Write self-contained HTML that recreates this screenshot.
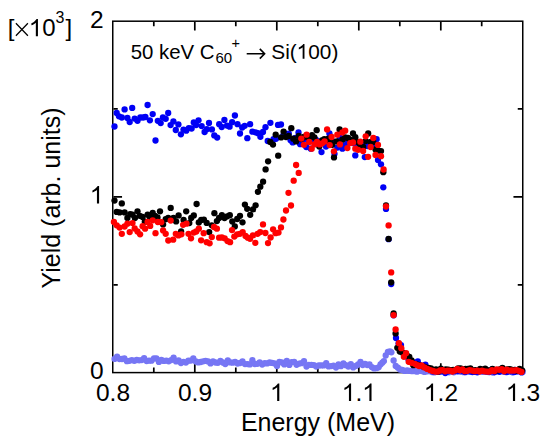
<!DOCTYPE html>
<html><head><meta charset="utf-8"><style>
html,body{margin:0;padding:0;background:#fff;width:550px;height:445px;overflow:hidden}
svg{display:block}
text{font-family:"Liberation Sans",sans-serif}
</style></head><body>
<svg width="550" height="445" viewBox="0 0 550 445">
<rect x="112.75" y="21.2" width="410.0" height="351.40000000000003" stroke="#000" stroke-width="1.5" fill="none"/>
<path d="M153.8,21.9v4.3M153.8,371.90000000000003v-4.3M194.8,21.9v8.6M194.8,371.90000000000003v-8.6M235.8,21.9v4.3M235.8,371.90000000000003v-4.3M276.8,21.9v8.6M276.8,371.90000000000003v-8.6M317.8,21.9v4.3M317.8,371.90000000000003v-4.3M358.8,21.9v8.6M358.8,371.90000000000003v-8.6M399.8,21.9v4.3M399.8,371.90000000000003v-4.3M440.8,21.9v8.6M440.8,371.90000000000003v-8.6M481.7,21.9v4.3M481.7,371.90000000000003v-4.3M113.45,284.9h4.3M522.05,284.9h-4.3M113.45,196.9h8.6M522.05,196.9h-8.6M113.45,108.9h4.3M522.05,108.9h-4.3" stroke="#000" stroke-width="1.7" fill="none"/>
<g fill="#7676f4"><circle cx="114.6" cy="358.9" r="3.15"/><circle cx="117.1" cy="356.7" r="3.15"/><circle cx="119.5" cy="359.0" r="3.15"/><circle cx="122.0" cy="359.0" r="3.15"/><circle cx="124.4" cy="358.4" r="3.15"/><circle cx="126.9" cy="361.2" r="3.15"/><circle cx="129.4" cy="360.8" r="3.15"/><circle cx="131.8" cy="360.1" r="3.15"/><circle cx="134.3" cy="360.8" r="3.15"/><circle cx="136.7" cy="360.0" r="3.15"/><circle cx="139.2" cy="360.3" r="3.15"/><circle cx="141.7" cy="360.1" r="3.15"/><circle cx="144.1" cy="358.1" r="3.15"/><circle cx="146.6" cy="361.0" r="3.15"/><circle cx="149.0" cy="360.7" r="3.15"/><circle cx="151.5" cy="360.7" r="3.15"/><circle cx="154.0" cy="358.4" r="3.15"/><circle cx="156.4" cy="358.4" r="3.15"/><circle cx="158.9" cy="361.9" r="3.15"/><circle cx="161.3" cy="360.0" r="3.15"/><circle cx="163.8" cy="360.9" r="3.15"/><circle cx="166.3" cy="360.6" r="3.15"/><circle cx="168.7" cy="361.3" r="3.15"/><circle cx="171.2" cy="360.1" r="3.15"/><circle cx="173.6" cy="357.6" r="3.15"/><circle cx="176.1" cy="361.4" r="3.15"/><circle cx="178.6" cy="360.3" r="3.15"/><circle cx="181.0" cy="363.0" r="3.15"/><circle cx="183.5" cy="361.8" r="3.15"/><circle cx="185.9" cy="362.6" r="3.15"/><circle cx="188.4" cy="360.7" r="3.15"/><circle cx="190.9" cy="360.6" r="3.15"/><circle cx="193.3" cy="358.5" r="3.15"/><circle cx="195.8" cy="361.5" r="3.15"/><circle cx="198.2" cy="362.4" r="3.15"/><circle cx="200.7" cy="362.0" r="3.15"/><circle cx="203.2" cy="361.3" r="3.15"/><circle cx="205.6" cy="360.9" r="3.15"/><circle cx="208.1" cy="361.4" r="3.15"/><circle cx="210.5" cy="363.4" r="3.15"/><circle cx="213.0" cy="361.3" r="3.15"/><circle cx="215.5" cy="362.5" r="3.15"/><circle cx="217.9" cy="362.8" r="3.15"/><circle cx="220.4" cy="360.8" r="3.15"/><circle cx="222.8" cy="362.5" r="3.15"/><circle cx="225.3" cy="364.0" r="3.15"/><circle cx="227.8" cy="360.4" r="3.15"/><circle cx="230.2" cy="362.4" r="3.15"/><circle cx="232.7" cy="362.7" r="3.15"/><circle cx="235.1" cy="362.0" r="3.15"/><circle cx="237.6" cy="363.5" r="3.15"/><circle cx="240.1" cy="363.0" r="3.15"/><circle cx="242.5" cy="361.5" r="3.15"/><circle cx="245.0" cy="364.1" r="3.15"/><circle cx="247.4" cy="364.1" r="3.15"/><circle cx="249.9" cy="364.4" r="3.15"/><circle cx="252.4" cy="360.2" r="3.15"/><circle cx="254.8" cy="364.0" r="3.15"/><circle cx="257.3" cy="363.8" r="3.15"/><circle cx="259.7" cy="362.3" r="3.15"/><circle cx="262.2" cy="364.5" r="3.15"/><circle cx="264.7" cy="363.2" r="3.15"/><circle cx="267.1" cy="363.4" r="3.15"/><circle cx="269.6" cy="362.5" r="3.15"/><circle cx="272.0" cy="362.9" r="3.15"/><circle cx="274.5" cy="363.4" r="3.15"/><circle cx="277.0" cy="366.0" r="3.15"/><circle cx="279.4" cy="361.9" r="3.15"/><circle cx="281.9" cy="362.5" r="3.15"/><circle cx="284.3" cy="364.4" r="3.15"/><circle cx="286.8" cy="360.9" r="3.15"/><circle cx="289.3" cy="364.9" r="3.15"/><circle cx="291.7" cy="362.2" r="3.15"/><circle cx="294.2" cy="362.0" r="3.15"/><circle cx="296.6" cy="364.8" r="3.15"/><circle cx="299.1" cy="363.6" r="3.15"/><circle cx="301.6" cy="363.2" r="3.15"/><circle cx="304.0" cy="361.2" r="3.15"/><circle cx="306.5" cy="366.5" r="3.15"/><circle cx="308.9" cy="364.8" r="3.15"/><circle cx="311.4" cy="364.9" r="3.15"/><circle cx="313.9" cy="365.1" r="3.15"/><circle cx="316.3" cy="366.5" r="3.15"/><circle cx="318.8" cy="365.4" r="3.15"/><circle cx="321.2" cy="365.4" r="3.15"/><circle cx="323.7" cy="365.4" r="3.15"/><circle cx="326.2" cy="363.2" r="3.15"/><circle cx="328.6" cy="366.4" r="3.15"/><circle cx="331.1" cy="366.1" r="3.15"/><circle cx="333.5" cy="365.7" r="3.15"/><circle cx="336.0" cy="367.5" r="3.15"/><circle cx="338.5" cy="364.5" r="3.15"/><circle cx="340.9" cy="366.2" r="3.15"/><circle cx="343.4" cy="363.4" r="3.15"/><circle cx="345.8" cy="365.2" r="3.15"/><circle cx="348.3" cy="366.6" r="3.15"/><circle cx="350.8" cy="364.1" r="3.15"/><circle cx="353.2" cy="367.4" r="3.15"/><circle cx="355.9" cy="365.9" r="3.15"/><circle cx="358.2" cy="364.5" r="3.15"/><circle cx="360.5" cy="361.8" r="3.15"/><circle cx="362.7" cy="365.0" r="3.15"/><circle cx="365.0" cy="363.8" r="3.15"/><circle cx="367.3" cy="365.0" r="3.15"/><circle cx="369.5" cy="364.5" r="3.15"/><circle cx="371.8" cy="367.1" r="3.15"/><circle cx="374.1" cy="368.4" r="3.15"/><circle cx="376.4" cy="368.2" r="3.15"/><circle cx="378.6" cy="367.3" r="3.15"/><circle cx="380.5" cy="364.5" r="3.15"/><circle cx="382.3" cy="362.7" r="3.15"/><circle cx="383.9" cy="361.1" r="3.15"/><circle cx="385.7" cy="355.5" r="3.15"/><circle cx="387.9" cy="351.8" r="3.15"/><circle cx="390.0" cy="351.4" r="3.15"/><circle cx="391.4" cy="352.3" r="3.15"/><circle cx="393.6" cy="360.5" r="3.15"/><circle cx="395.7" cy="365.9" r="3.15"/><circle cx="397.9" cy="367.7" r="3.15"/><circle cx="400.0" cy="369.5" r="3.15"/><circle cx="402.3" cy="370.0" r="3.15"/><circle cx="404.7" cy="370.9" r="3.15"/><circle cx="407.2" cy="370.5" r="3.15"/><circle cx="409.6" cy="370.9" r="3.15"/><circle cx="412.1" cy="371.2" r="3.15"/><circle cx="414.5" cy="371.0" r="3.15"/><circle cx="417.0" cy="371.7" r="3.15"/><circle cx="419.5" cy="370.7" r="3.15"/><circle cx="421.9" cy="371.0" r="3.15"/><circle cx="424.4" cy="371.9" r="3.15"/><circle cx="426.8" cy="371.4" r="3.15"/><circle cx="429.3" cy="371.0" r="3.15"/><circle cx="431.8" cy="372.1" r="3.15"/><circle cx="434.2" cy="372.4" r="3.15"/><circle cx="436.7" cy="371.2" r="3.15"/><circle cx="439.1" cy="370.7" r="3.15"/><circle cx="441.6" cy="371.4" r="3.15"/><circle cx="444.1" cy="371.4" r="3.15"/><circle cx="446.5" cy="371.3" r="3.15"/><circle cx="449.0" cy="372.3" r="3.15"/><circle cx="451.4" cy="370.9" r="3.15"/><circle cx="453.9" cy="372.3" r="3.15"/><circle cx="456.4" cy="370.7" r="3.15"/><circle cx="458.8" cy="371.0" r="3.15"/><circle cx="461.3" cy="371.9" r="3.15"/><circle cx="463.7" cy="372.2" r="3.15"/><circle cx="466.2" cy="372.0" r="3.15"/><circle cx="468.7" cy="371.7" r="3.15"/><circle cx="471.1" cy="371.6" r="3.15"/><circle cx="473.6" cy="371.6" r="3.15"/><circle cx="476.0" cy="371.8" r="3.15"/><circle cx="478.5" cy="371.4" r="3.15"/><circle cx="481.0" cy="371.7" r="3.15"/><circle cx="483.4" cy="371.8" r="3.15"/><circle cx="485.9" cy="371.5" r="3.15"/><circle cx="488.3" cy="372.0" r="3.15"/><circle cx="490.8" cy="371.8" r="3.15"/><circle cx="493.3" cy="372.7" r="3.15"/><circle cx="495.7" cy="371.7" r="3.15"/><circle cx="498.2" cy="371.2" r="3.15"/><circle cx="500.6" cy="371.3" r="3.15"/><circle cx="503.1" cy="371.5" r="3.15"/><circle cx="505.6" cy="372.1" r="3.15"/><circle cx="508.0" cy="371.3" r="3.15"/><circle cx="510.5" cy="371.7" r="3.15"/><circle cx="512.9" cy="372.6" r="3.15"/><circle cx="515.4" cy="370.0" r="3.15"/><circle cx="517.9" cy="370.8" r="3.15"/><circle cx="520.3" cy="371.6" r="3.15"/><circle cx="522.8" cy="371.7" r="3.15"/></g>
<g fill="#0000f5"><circle cx="114.5" cy="126.5" r="3.15"/><circle cx="116.7" cy="113.0" r="3.15"/><circle cx="119.0" cy="116.3" r="3.15"/><circle cx="121.8" cy="117.5" r="3.15"/><circle cx="124.6" cy="109.4" r="3.15"/><circle cx="127.4" cy="118.0" r="3.15"/><circle cx="129.7" cy="122.0" r="3.15"/><circle cx="132.2" cy="107.9" r="3.15"/><circle cx="134.7" cy="118.6" r="3.15"/><circle cx="137.5" cy="120.8" r="3.15"/><circle cx="140.3" cy="117.5" r="3.15"/><circle cx="143.1" cy="117.5" r="3.15"/><circle cx="145.4" cy="117.0" r="3.15"/><circle cx="147.6" cy="105.0" r="3.15"/><circle cx="149.9" cy="120.3" r="3.15"/><circle cx="152.7" cy="114.1" r="3.15"/><circle cx="155.5" cy="140.5" r="3.15"/><circle cx="157.8" cy="120.8" r="3.15"/><circle cx="160.7" cy="123.1" r="3.15"/><circle cx="162.9" cy="117.5" r="3.15"/><circle cx="165.7" cy="118.8" r="3.15"/><circle cx="168.2" cy="113.0" r="3.15"/><circle cx="170.6" cy="125.1" r="3.15"/><circle cx="173.4" cy="121.4" r="3.15"/><circle cx="175.8" cy="130.0" r="3.15"/><circle cx="178.4" cy="124.4" r="3.15"/><circle cx="180.9" cy="134.3" r="3.15"/><circle cx="183.5" cy="129.6" r="3.15"/><circle cx="186.2" cy="130.7" r="3.15"/><circle cx="188.8" cy="128.1" r="3.15"/><circle cx="191.6" cy="128.5" r="3.15"/><circle cx="193.8" cy="122.5" r="3.15"/><circle cx="196.1" cy="125.1" r="3.15"/><circle cx="198.5" cy="120.3" r="3.15"/><circle cx="201.7" cy="126.1" r="3.15"/><circle cx="204.6" cy="132.0" r="3.15"/><circle cx="206.8" cy="129.2" r="3.15"/><circle cx="209.0" cy="123.0" r="3.15"/><circle cx="211.9" cy="129.4" r="3.15"/><circle cx="214.3" cy="135.4" r="3.15"/><circle cx="217.2" cy="137.6" r="3.15"/><circle cx="219.2" cy="124.2" r="3.15"/><circle cx="221.7" cy="127.0" r="3.15"/><circle cx="224.4" cy="120.0" r="3.15"/><circle cx="227.0" cy="125.6" r="3.15"/><circle cx="229.6" cy="126.7" r="3.15"/><circle cx="232.1" cy="122.2" r="3.15"/><circle cx="234.9" cy="115.5" r="3.15"/><circle cx="237.5" cy="124.2" r="3.15"/><circle cx="240.0" cy="133.5" r="3.15"/><circle cx="242.2" cy="127.5" r="3.15"/><circle cx="244.7" cy="125.8" r="3.15"/><circle cx="247.3" cy="138.2" r="3.15"/><circle cx="250.1" cy="124.2" r="3.15"/><circle cx="252.4" cy="131.7" r="3.15"/><circle cx="255.5" cy="132.3" r="3.15"/><circle cx="258.0" cy="133.2" r="3.15"/><circle cx="260.4" cy="136.8" r="3.15"/><circle cx="263.0" cy="132.0" r="3.15"/><circle cx="265.5" cy="127.2" r="3.15"/><circle cx="267.7" cy="141.0" r="3.15"/><circle cx="270.4" cy="122.8" r="3.15"/><circle cx="273.5" cy="139.2" r="3.15"/><circle cx="276.0" cy="138.8" r="3.15"/><circle cx="278.0" cy="124.9" r="3.15"/><circle cx="281.0" cy="124.5" r="3.15"/><circle cx="283.5" cy="135.0" r="3.15"/><circle cx="286.0" cy="134.0" r="3.15"/><circle cx="288.8" cy="133.6" r="3.15"/><circle cx="290.6" cy="140.3" r="3.15"/><circle cx="292.7" cy="142.4" r="3.15"/><circle cx="295.5" cy="138.0" r="3.15"/><circle cx="298.5" cy="132.4" r="3.15"/><circle cx="300.2" cy="144.2" r="3.15"/><circle cx="303.0" cy="140.0" r="3.15"/><circle cx="306.3" cy="147.0" r="3.15"/><circle cx="308.5" cy="141.0" r="3.15"/><circle cx="310.8" cy="148.7" r="3.15"/><circle cx="313.5" cy="141.0" r="3.15"/><circle cx="316.0" cy="140.0" r="3.15"/><circle cx="318.5" cy="142.0" r="3.15"/><circle cx="321.5" cy="152.1" r="3.15"/><circle cx="324.0" cy="141.0" r="3.15"/><circle cx="326.0" cy="146.5" r="3.15"/><circle cx="329.4" cy="133.5" r="3.15"/><circle cx="332.8" cy="141.4" r="3.15"/><circle cx="334.5" cy="153.8" r="3.15"/><circle cx="337.3" cy="147.6" r="3.15"/><circle cx="340.1" cy="138.0" r="3.15"/><circle cx="342.4" cy="148.7" r="3.15"/><circle cx="344.6" cy="145.3" r="3.15"/><circle cx="347.5" cy="143.0" r="3.15"/><circle cx="350.0" cy="142.0" r="3.15"/><circle cx="352.5" cy="143.0" r="3.15"/><circle cx="355.3" cy="155.4" r="3.15"/><circle cx="357.0" cy="145.3" r="3.15"/><circle cx="360.0" cy="144.0" r="3.15"/><circle cx="362.5" cy="145.0" r="3.15"/><circle cx="364.8" cy="157.1" r="3.15"/><circle cx="367.5" cy="146.0" r="3.15"/><circle cx="369.9" cy="143.7" r="3.15"/><circle cx="372.5" cy="144.0" r="3.15"/><circle cx="374.5" cy="146.0" r="3.15"/><circle cx="376.6" cy="139.2" r="3.15"/><circle cx="378.0" cy="160.0" r="3.15"/><circle cx="381.0" cy="164.3" r="3.15"/><circle cx="383.3" cy="187.3" r="3.15"/><circle cx="386.0" cy="208.9" r="3.15"/><circle cx="388.6" cy="239.2" r="3.15"/><circle cx="391.2" cy="284.0" r="3.15"/><circle cx="393.6" cy="315.3" r="3.15"/><circle cx="396.0" cy="338.0" r="3.15"/><circle cx="398.6" cy="343.5" r="3.15"/><circle cx="401.0" cy="345.1" r="3.15"/><circle cx="403.5" cy="353.0" r="3.15"/><circle cx="406.0" cy="354.5" r="3.15"/><circle cx="408.5" cy="359.5" r="3.15"/><circle cx="411.0" cy="361.5" r="3.15"/><circle cx="413.5" cy="362.5" r="3.15"/><circle cx="416.0" cy="363.5" r="3.15"/><circle cx="417.8" cy="361.3" r="3.15"/><circle cx="420.5" cy="365.5" r="3.15"/><circle cx="423.0" cy="366.5" r="3.15"/><circle cx="425.4" cy="364.6" r="3.15"/><circle cx="428.0" cy="368.5" r="3.15"/><circle cx="430.5" cy="369.5" r="3.15"/><circle cx="433.0" cy="371.5" r="3.15"/><circle cx="435.5" cy="371.0" r="3.15"/><circle cx="437.9" cy="371.8" r="3.15"/><circle cx="440.4" cy="371.5" r="3.15"/><circle cx="442.8" cy="370.9" r="3.15"/><circle cx="445.3" cy="373.0" r="3.15"/><circle cx="447.8" cy="371.5" r="3.15"/><circle cx="450.2" cy="370.9" r="3.15"/><circle cx="452.7" cy="371.2" r="3.15"/><circle cx="455.1" cy="371.1" r="3.15"/><circle cx="457.6" cy="371.3" r="3.15"/><circle cx="460.1" cy="369.4" r="3.15"/><circle cx="462.5" cy="371.0" r="3.15"/><circle cx="465.0" cy="372.0" r="3.15"/><circle cx="467.4" cy="370.5" r="3.15"/><circle cx="469.9" cy="371.3" r="3.15"/><circle cx="472.4" cy="372.0" r="3.15"/><circle cx="474.8" cy="371.9" r="3.15"/><circle cx="477.3" cy="372.3" r="3.15"/><circle cx="479.7" cy="370.1" r="3.15"/><circle cx="482.2" cy="371.1" r="3.15"/><circle cx="484.7" cy="371.1" r="3.15"/><circle cx="487.1" cy="371.7" r="3.15"/><circle cx="489.6" cy="372.1" r="3.15"/><circle cx="492.0" cy="369.4" r="3.15"/><circle cx="494.5" cy="372.1" r="3.15"/><circle cx="497.0" cy="370.3" r="3.15"/><circle cx="499.4" cy="371.8" r="3.15"/><circle cx="501.9" cy="370.3" r="3.15"/><circle cx="504.3" cy="371.4" r="3.15"/><circle cx="506.8" cy="372.1" r="3.15"/><circle cx="509.3" cy="371.2" r="3.15"/><circle cx="511.7" cy="371.4" r="3.15"/><circle cx="514.2" cy="371.9" r="3.15"/><circle cx="516.6" cy="371.4" r="3.15"/><circle cx="519.1" cy="371.2" r="3.15"/><circle cx="521.6" cy="372.4" r="3.15"/></g>
<g fill="#000000"><circle cx="114.5" cy="200.6" r="3.15"/><circle cx="116.7" cy="211.9" r="3.15"/><circle cx="119.6" cy="212.4" r="3.15"/><circle cx="121.8" cy="203.4" r="3.15"/><circle cx="124.6" cy="212.4" r="3.15"/><circle cx="127.4" cy="218.0" r="3.15"/><circle cx="130.2" cy="214.1" r="3.15"/><circle cx="132.5" cy="214.7" r="3.15"/><circle cx="134.9" cy="218.0" r="3.15"/><circle cx="137.5" cy="211.3" r="3.15"/><circle cx="139.8" cy="215.8" r="3.15"/><circle cx="142.6" cy="216.9" r="3.15"/><circle cx="144.8" cy="221.7" r="3.15"/><circle cx="147.6" cy="214.7" r="3.15"/><circle cx="149.9" cy="217.5" r="3.15"/><circle cx="152.7" cy="213.0" r="3.15"/><circle cx="155.0" cy="216.0" r="3.15"/><circle cx="157.5" cy="217.5" r="3.15"/><circle cx="160.0" cy="211.3" r="3.15"/><circle cx="163.1" cy="224.4" r="3.15"/><circle cx="165.7" cy="219.2" r="3.15"/><circle cx="168.2" cy="218.0" r="3.15"/><circle cx="170.7" cy="207.9" r="3.15"/><circle cx="173.5" cy="218.0" r="3.15"/><circle cx="176.1" cy="221.4" r="3.15"/><circle cx="178.6" cy="215.4" r="3.15"/><circle cx="181.1" cy="231.5" r="3.15"/><circle cx="183.6" cy="220.0" r="3.15"/><circle cx="186.2" cy="211.3" r="3.15"/><circle cx="189.3" cy="223.1" r="3.15"/><circle cx="191.2" cy="218.0" r="3.15"/><circle cx="193.8" cy="215.4" r="3.15"/><circle cx="196.6" cy="204.0" r="3.15"/><circle cx="198.8" cy="222.5" r="3.15"/><circle cx="201.2" cy="220.0" r="3.15"/><circle cx="203.9" cy="219.7" r="3.15"/><circle cx="206.7" cy="222.9" r="3.15"/><circle cx="209.2" cy="232.1" r="3.15"/><circle cx="211.8" cy="225.3" r="3.15"/><circle cx="214.4" cy="213.2" r="3.15"/><circle cx="216.9" cy="221.1" r="3.15"/><circle cx="219.1" cy="218.0" r="3.15"/><circle cx="221.9" cy="215.2" r="3.15"/><circle cx="224.5" cy="218.0" r="3.15"/><circle cx="227.2" cy="216.3" r="3.15"/><circle cx="229.8" cy="215.2" r="3.15"/><circle cx="232.3" cy="221.5" r="3.15"/><circle cx="234.8" cy="226.4" r="3.15"/><circle cx="237.2" cy="219.0" r="3.15"/><circle cx="240.0" cy="215.8" r="3.15"/><circle cx="242.5" cy="222.3" r="3.15"/><circle cx="244.9" cy="204.6" r="3.15"/><circle cx="247.2" cy="208.8" r="3.15"/><circle cx="250.2" cy="214.8" r="3.15"/><circle cx="253.0" cy="209.4" r="3.15"/><circle cx="255.6" cy="205.3" r="3.15"/><circle cx="257.9" cy="191.8" r="3.15"/><circle cx="260.3" cy="186.7" r="3.15"/><circle cx="263.1" cy="181.7" r="3.15"/><circle cx="265.6" cy="169.4" r="3.15"/><circle cx="268.1" cy="161.3" r="3.15"/><circle cx="270.3" cy="142.0" r="3.15"/><circle cx="273.0" cy="144.6" r="3.15"/><circle cx="275.7" cy="134.7" r="3.15"/><circle cx="278.2" cy="155.7" r="3.15"/><circle cx="281.1" cy="137.4" r="3.15"/><circle cx="283.6" cy="131.6" r="3.15"/><circle cx="286.0" cy="137.0" r="3.15"/><circle cx="288.7" cy="136.0" r="3.15"/><circle cx="291.3" cy="128.2" r="3.15"/><circle cx="293.3" cy="138.7" r="3.15"/><circle cx="296.0" cy="141.4" r="3.15"/><circle cx="298.7" cy="135.8" r="3.15"/><circle cx="301.3" cy="139.0" r="3.15"/><circle cx="303.9" cy="137.0" r="3.15"/><circle cx="306.5" cy="136.0" r="3.15"/><circle cx="309.0" cy="138.0" r="3.15"/><circle cx="312.0" cy="135.2" r="3.15"/><circle cx="314.4" cy="137.5" r="3.15"/><circle cx="316.7" cy="130.2" r="3.15"/><circle cx="319.3" cy="146.5" r="3.15"/><circle cx="321.9" cy="140.3" r="3.15"/><circle cx="324.3" cy="139.2" r="3.15"/><circle cx="326.7" cy="140.0" r="3.15"/><circle cx="328.3" cy="138.6" r="3.15"/><circle cx="330.8" cy="140.0" r="3.15"/><circle cx="332.2" cy="144.8" r="3.15"/><circle cx="334.0" cy="157.4" r="3.15"/><circle cx="336.7" cy="141.4" r="3.15"/><circle cx="339.6" cy="129.4" r="3.15"/><circle cx="342.4" cy="139.7" r="3.15"/><circle cx="345.2" cy="137.5" r="3.15"/><circle cx="348.0" cy="138.0" r="3.15"/><circle cx="350.5" cy="140.0" r="3.15"/><circle cx="353.0" cy="133.5" r="3.15"/><circle cx="355.3" cy="137.2" r="3.15"/><circle cx="357.8" cy="142.0" r="3.15"/><circle cx="360.1" cy="146.5" r="3.15"/><circle cx="363.1" cy="147.0" r="3.15"/><circle cx="365.7" cy="141.1" r="3.15"/><circle cx="368.2" cy="133.5" r="3.15"/><circle cx="370.7" cy="142.0" r="3.15"/><circle cx="373.3" cy="142.0" r="3.15"/><circle cx="375.5" cy="149.5" r="3.15"/><circle cx="378.3" cy="150.7" r="3.15"/><circle cx="381.0" cy="151.1" r="3.15"/><circle cx="383.3" cy="172.2" r="3.15"/><circle cx="386.0" cy="205.5" r="3.15"/><circle cx="388.6" cy="238.9" r="3.15"/><circle cx="391.2" cy="282.3" r="3.15"/><circle cx="393.6" cy="313.5" r="3.15"/><circle cx="395.6" cy="333.4" r="3.15"/><circle cx="397.3" cy="347.8" r="3.15"/><circle cx="399.8" cy="351.5" r="3.15"/><circle cx="402.3" cy="352.5" r="3.15"/><circle cx="404.8" cy="354.5" r="3.15"/><circle cx="407.2" cy="355.8" r="3.15"/><circle cx="409.3" cy="356.8" r="3.15"/><circle cx="411.5" cy="360.5" r="3.15"/><circle cx="413.3" cy="365.2" r="3.15"/><circle cx="416.0" cy="364.2" r="3.15"/><circle cx="418.5" cy="365.0" r="3.15"/><circle cx="421.0" cy="365.8" r="3.15"/><circle cx="423.5" cy="366.5" r="3.15"/><circle cx="426.0" cy="367.5" r="3.15"/><circle cx="428.5" cy="368.0" r="3.15"/><circle cx="431.0" cy="368.4" r="3.15"/><circle cx="433.5" cy="370.4" r="3.15"/><circle cx="436.0" cy="369.4" r="3.15"/><circle cx="438.4" cy="371.6" r="3.15"/><circle cx="440.9" cy="368.7" r="3.15"/><circle cx="443.3" cy="370.3" r="3.15"/><circle cx="445.8" cy="369.4" r="3.15"/><circle cx="448.3" cy="369.7" r="3.15"/><circle cx="450.7" cy="370.2" r="3.15"/><circle cx="453.2" cy="369.8" r="3.15"/><circle cx="455.6" cy="370.1" r="3.15"/><circle cx="458.1" cy="368.4" r="3.15"/><circle cx="460.6" cy="368.4" r="3.15"/><circle cx="463.0" cy="370.1" r="3.15"/><circle cx="465.5" cy="368.8" r="3.15"/><circle cx="467.9" cy="368.8" r="3.15"/><circle cx="470.4" cy="368.4" r="3.15"/><circle cx="472.9" cy="370.6" r="3.15"/><circle cx="475.3" cy="370.2" r="3.15"/><circle cx="477.8" cy="370.8" r="3.15"/><circle cx="480.2" cy="368.8" r="3.15"/><circle cx="482.7" cy="369.6" r="3.15"/><circle cx="485.2" cy="368.7" r="3.15"/><circle cx="487.6" cy="370.2" r="3.15"/><circle cx="490.1" cy="370.9" r="3.15"/><circle cx="492.5" cy="368.9" r="3.15"/><circle cx="495.0" cy="370.8" r="3.15"/><circle cx="497.5" cy="370.4" r="3.15"/><circle cx="499.9" cy="369.5" r="3.15"/><circle cx="502.4" cy="368.0" r="3.15"/><circle cx="504.8" cy="370.7" r="3.15"/><circle cx="507.3" cy="369.5" r="3.15"/><circle cx="509.8" cy="369.1" r="3.15"/><circle cx="512.2" cy="369.9" r="3.15"/><circle cx="514.7" cy="369.9" r="3.15"/><circle cx="517.1" cy="370.8" r="3.15"/><circle cx="519.6" cy="368.8" r="3.15"/><circle cx="522.1" cy="370.5" r="3.15"/></g>
<g fill="#ff0000"><circle cx="113.9" cy="222.0" r="3.15"/><circle cx="116.7" cy="225.3" r="3.15"/><circle cx="119.6" cy="227.6" r="3.15"/><circle cx="121.8" cy="233.8" r="3.15"/><circle cx="124.6" cy="226.5" r="3.15"/><circle cx="127.4" cy="223.7" r="3.15"/><circle cx="129.7" cy="232.1" r="3.15"/><circle cx="132.5" cy="223.1" r="3.15"/><circle cx="134.7" cy="228.5" r="3.15"/><circle cx="137.5" cy="231.5" r="3.15"/><circle cx="140.1" cy="234.3" r="3.15"/><circle cx="142.6" cy="226.2" r="3.15"/><circle cx="145.1" cy="228.7" r="3.15"/><circle cx="147.6" cy="222.0" r="3.15"/><circle cx="150.2" cy="225.9" r="3.15"/><circle cx="152.7" cy="220.3" r="3.15"/><circle cx="155.5" cy="233.2" r="3.15"/><circle cx="157.8" cy="222.0" r="3.15"/><circle cx="161.2" cy="222.2" r="3.15"/><circle cx="163.1" cy="230.4" r="3.15"/><circle cx="165.7" cy="233.8" r="3.15"/><circle cx="168.3" cy="240.5" r="3.15"/><circle cx="170.7" cy="220.6" r="3.15"/><circle cx="173.2" cy="239.7" r="3.15"/><circle cx="175.8" cy="233.8" r="3.15"/><circle cx="178.4" cy="235.4" r="3.15"/><circle cx="181.4" cy="234.3" r="3.15"/><circle cx="183.1" cy="224.8" r="3.15"/><circle cx="186.5" cy="223.7" r="3.15"/><circle cx="188.5" cy="233.8" r="3.15"/><circle cx="191.0" cy="238.3" r="3.15"/><circle cx="193.8" cy="232.6" r="3.15"/><circle cx="196.3" cy="231.5" r="3.15"/><circle cx="198.8" cy="228.7" r="3.15"/><circle cx="201.1" cy="240.3" r="3.15"/><circle cx="203.7" cy="233.2" r="3.15"/><circle cx="206.7" cy="242.2" r="3.15"/><circle cx="209.6" cy="243.3" r="3.15"/><circle cx="211.8" cy="237.1" r="3.15"/><circle cx="214.0" cy="227.0" r="3.15"/><circle cx="216.9" cy="228.7" r="3.15"/><circle cx="219.1" cy="237.7" r="3.15"/><circle cx="221.9" cy="237.5" r="3.15"/><circle cx="224.7" cy="238.3" r="3.15"/><circle cx="227.5" cy="241.1" r="3.15"/><circle cx="230.1" cy="242.2" r="3.15"/><circle cx="232.0" cy="230.1" r="3.15"/><circle cx="234.3" cy="236.6" r="3.15"/><circle cx="237.1" cy="234.3" r="3.15"/><circle cx="239.9" cy="233.8" r="3.15"/><circle cx="242.7" cy="232.1" r="3.15"/><circle cx="245.5" cy="236.0" r="3.15"/><circle cx="247.8" cy="237.7" r="3.15"/><circle cx="250.1" cy="238.8" r="3.15"/><circle cx="252.9" cy="235.4" r="3.15"/><circle cx="255.3" cy="242.8" r="3.15"/><circle cx="257.6" cy="233.8" r="3.15"/><circle cx="260.2" cy="232.1" r="3.15"/><circle cx="263.0" cy="224.4" r="3.15"/><circle cx="265.4" cy="233.0" r="3.15"/><circle cx="268.0" cy="243.1" r="3.15"/><circle cx="270.6" cy="237.5" r="3.15"/><circle cx="273.1" cy="229.3" r="3.15"/><circle cx="275.6" cy="233.2" r="3.15"/><circle cx="278.5" cy="232.6" r="3.15"/><circle cx="281.0" cy="227.4" r="3.15"/><circle cx="283.4" cy="219.5" r="3.15"/><circle cx="286.0" cy="210.5" r="3.15"/><circle cx="288.5" cy="192.8" r="3.15"/><circle cx="291.0" cy="205.5" r="3.15"/><circle cx="293.7" cy="180.7" r="3.15"/><circle cx="296.1" cy="165.0" r="3.15"/><circle cx="298.7" cy="172.9" r="3.15"/><circle cx="301.3" cy="138.6" r="3.15"/><circle cx="303.9" cy="144.8" r="3.15"/><circle cx="306.6" cy="134.7" r="3.15"/><circle cx="309.2" cy="142.0" r="3.15"/><circle cx="311.7" cy="148.7" r="3.15"/><circle cx="314.4" cy="144.4" r="3.15"/><circle cx="317.0" cy="142.0" r="3.15"/><circle cx="319.6" cy="144.4" r="3.15"/><circle cx="322.1" cy="143.3" r="3.15"/><circle cx="324.6" cy="141.4" r="3.15"/><circle cx="327.1" cy="129.4" r="3.15"/><circle cx="329.7" cy="145.1" r="3.15"/><circle cx="331.6" cy="137.0" r="3.15"/><circle cx="333.9" cy="151.3" r="3.15"/><circle cx="337.3" cy="134.7" r="3.15"/><circle cx="339.9" cy="144.4" r="3.15"/><circle cx="342.4" cy="132.4" r="3.15"/><circle cx="345.2" cy="130.7" r="3.15"/><circle cx="347.4" cy="148.1" r="3.15"/><circle cx="350.2" cy="143.1" r="3.15"/><circle cx="353.0" cy="142.5" r="3.15"/><circle cx="355.3" cy="148.7" r="3.15"/><circle cx="358.1" cy="149.8" r="3.15"/><circle cx="360.3" cy="141.7" r="3.15"/><circle cx="363.1" cy="151.0" r="3.15"/><circle cx="365.7" cy="136.3" r="3.15"/><circle cx="368.1" cy="156.8" r="3.15"/><circle cx="370.6" cy="147.0" r="3.15"/><circle cx="373.3" cy="138.0" r="3.15"/><circle cx="375.5" cy="155.0" r="3.15"/><circle cx="378.0" cy="144.9" r="3.15"/><circle cx="381.0" cy="156.2" r="3.15"/><circle cx="383.6" cy="169.5" r="3.15"/><circle cx="386.0" cy="206.5" r="3.15"/><circle cx="388.6" cy="225.4" r="3.15"/><circle cx="391.2" cy="272.4" r="3.15"/><circle cx="393.6" cy="315.2" r="3.15"/><circle cx="395.6" cy="329.5" r="3.15"/><circle cx="398.9" cy="343.2" r="3.15"/><circle cx="401.3" cy="348.2" r="3.15"/><circle cx="403.9" cy="356.8" r="3.15"/><circle cx="406.1" cy="353.2" r="3.15"/><circle cx="408.7" cy="361.8" r="3.15"/><circle cx="411.6" cy="362.8" r="3.15"/><circle cx="414.8" cy="363.8" r="3.15"/><circle cx="417.2" cy="365.2" r="3.15"/><circle cx="419.2" cy="366.0" r="3.15"/><circle cx="421.6" cy="365.5" r="3.15"/><circle cx="424.4" cy="367.4" r="3.15"/><circle cx="427.3" cy="368.9" r="3.15"/><circle cx="430.2" cy="370.2" r="3.15"/><circle cx="432.8" cy="371.0" r="3.15"/><circle cx="435.3" cy="371.6" r="3.15"/><circle cx="437.8" cy="371.6" r="3.15"/><circle cx="440.2" cy="370.5" r="3.15"/><circle cx="442.7" cy="370.1" r="3.15"/><circle cx="445.1" cy="371.3" r="3.15"/><circle cx="447.6" cy="370.7" r="3.15"/><circle cx="450.1" cy="370.7" r="3.15"/><circle cx="452.5" cy="371.6" r="3.15"/><circle cx="455.0" cy="370.4" r="3.15"/><circle cx="457.4" cy="369.0" r="3.15"/><circle cx="459.9" cy="370.3" r="3.15"/><circle cx="462.4" cy="369.3" r="3.15"/><circle cx="464.8" cy="371.2" r="3.15"/><circle cx="467.3" cy="370.8" r="3.15"/><circle cx="469.7" cy="370.2" r="3.15"/><circle cx="472.2" cy="370.6" r="3.15"/><circle cx="474.7" cy="371.2" r="3.15"/><circle cx="477.1" cy="370.7" r="3.15"/><circle cx="479.6" cy="371.5" r="3.15"/><circle cx="482.0" cy="370.6" r="3.15"/><circle cx="484.5" cy="371.3" r="3.15"/><circle cx="487.0" cy="371.6" r="3.15"/><circle cx="489.4" cy="371.7" r="3.15"/><circle cx="491.9" cy="370.1" r="3.15"/><circle cx="494.3" cy="371.2" r="3.15"/><circle cx="496.8" cy="369.3" r="3.15"/><circle cx="499.3" cy="369.8" r="3.15"/><circle cx="501.7" cy="369.2" r="3.15"/><circle cx="504.2" cy="371.3" r="3.15"/><circle cx="506.6" cy="369.7" r="3.15"/><circle cx="509.1" cy="370.6" r="3.15"/><circle cx="511.6" cy="370.5" r="3.15"/><circle cx="514.0" cy="370.6" r="3.15"/><circle cx="516.5" cy="370.2" r="3.15"/><circle cx="518.9" cy="370.8" r="3.15"/><circle cx="521.4" cy="371.9" r="3.15"/></g>
<g fill="#000">
<g transform="translate(89.97,27.80)"><text x="0.00" y="0" font-size="24.5">2</text></g><g transform="translate(89.97,203.60)"><path transform="translate(0.00,0) scale(0.01196,-0.01196)" d="M763,0L583,0L583,1147Q518,1085 412,1023Q306,961 205,925L205,1100Q365,1172 480,1276Q599,1377 646,1466L763,1466Z"/></g><g transform="translate(89.97,379.40)"><text x="0.00" y="0" font-size="24.5">0</text></g><g transform="translate(95.97,401.00)"><text x="0.00" y="0" font-size="24.5">0.8</text></g><g transform="translate(177.97,401.00)"><text x="0.00" y="0" font-size="24.5">0.9</text></g><g transform="translate(270.19,401.00)"><path transform="translate(0.00,0) scale(0.01196,-0.01196)" d="M763,0L583,0L583,1147Q518,1085 412,1023Q306,961 205,925L205,1100Q365,1172 480,1276Q599,1377 646,1466L763,1466Z"/></g><g transform="translate(341.97,401.00)"><path transform="translate(0.00,0) scale(0.01196,-0.01196)" d="M763,0L583,0L583,1147Q518,1085 412,1023Q306,961 205,925L205,1100Q365,1172 480,1276Q599,1377 646,1466L763,1466Z"/><text x="13.63" y="0" font-size="24.5">.</text><path transform="translate(20.43,0) scale(0.01196,-0.01196)" d="M763,0L583,0L583,1147Q518,1085 412,1023Q306,961 205,925L205,1100Q365,1172 480,1276Q599,1377 646,1466L763,1466Z"/></g><g transform="translate(423.97,401.00)"><path transform="translate(0.00,0) scale(0.01196,-0.01196)" d="M763,0L583,0L583,1147Q518,1085 412,1023Q306,961 205,925L205,1100Q365,1172 480,1276Q599,1377 646,1466L763,1466Z"/><text x="13.63" y="0" font-size="24.5">.2</text></g><g transform="translate(505.97,401.00)"><path transform="translate(0.00,0) scale(0.01196,-0.01196)" d="M763,0L583,0L583,1147Q518,1085 412,1023Q306,961 205,925L205,1100Q365,1172 480,1276Q599,1377 646,1466L763,1466Z"/><text x="13.63" y="0" font-size="24.5">.3</text></g><g transform="translate(7.80,36.20)"><text x="0.00" y="0" font-size="24">[</text></g><g transform="translate(29.00,36.20)"><path transform="translate(0.00,0) scale(0.01172,-0.01172)" d="M763,0L583,0L583,1147Q518,1085 412,1023Q306,961 205,925L205,1100Q365,1172 480,1276Q599,1377 646,1466L763,1466Z"/><text x="13.35" y="0" font-size="24">0</text></g><g transform="translate(55.50,23.00)"><text x="0.00" y="0" font-size="16">3</text></g><g transform="translate(65.60,36.20)"><text x="0.00" y="0" font-size="24">]</text></g><g transform="translate(130.70,58.80)"><text x="0.00" y="0" font-size="20.4">50 keV C</text></g><g transform="translate(215.40,63.40)"><text x="0.00" y="0" font-size="15">60</text></g><g transform="translate(231.40,47.80)"><text x="0.00" y="0" font-size="14.5">+</text></g><g transform="translate(271.30,58.80)"><text x="0.00" y="0" font-size="20.8">Si(</text><path transform="translate(25.42,0) scale(0.01016,-0.01016)" d="M763,0L583,0L583,1147Q518,1085 412,1023Q306,961 205,925L205,1100Q365,1172 480,1276Q599,1377 646,1466L763,1466Z"/><text x="36.99" y="0" font-size="20.8">00)</text></g>
<text x="318" y="431.2" font-size="25" text-anchor="middle">Energy (MeV)</text>
<text transform="translate(59.6,198) rotate(-90)" x="0" y="0" font-size="25" text-anchor="middle">Yield (arb. units)</text>
</g>
<path d="M15.9,23.3L27.9,35.7M27.9,23.3L15.9,35.7" stroke="#000" stroke-width="1.25" fill="none"/>
<path d="M246.7,53.7H264.3M259.8,48.9L264.6,53.7L259.8,58.6" stroke="#000" stroke-width="1.6" fill="none"/>
</svg>
</body></html>
